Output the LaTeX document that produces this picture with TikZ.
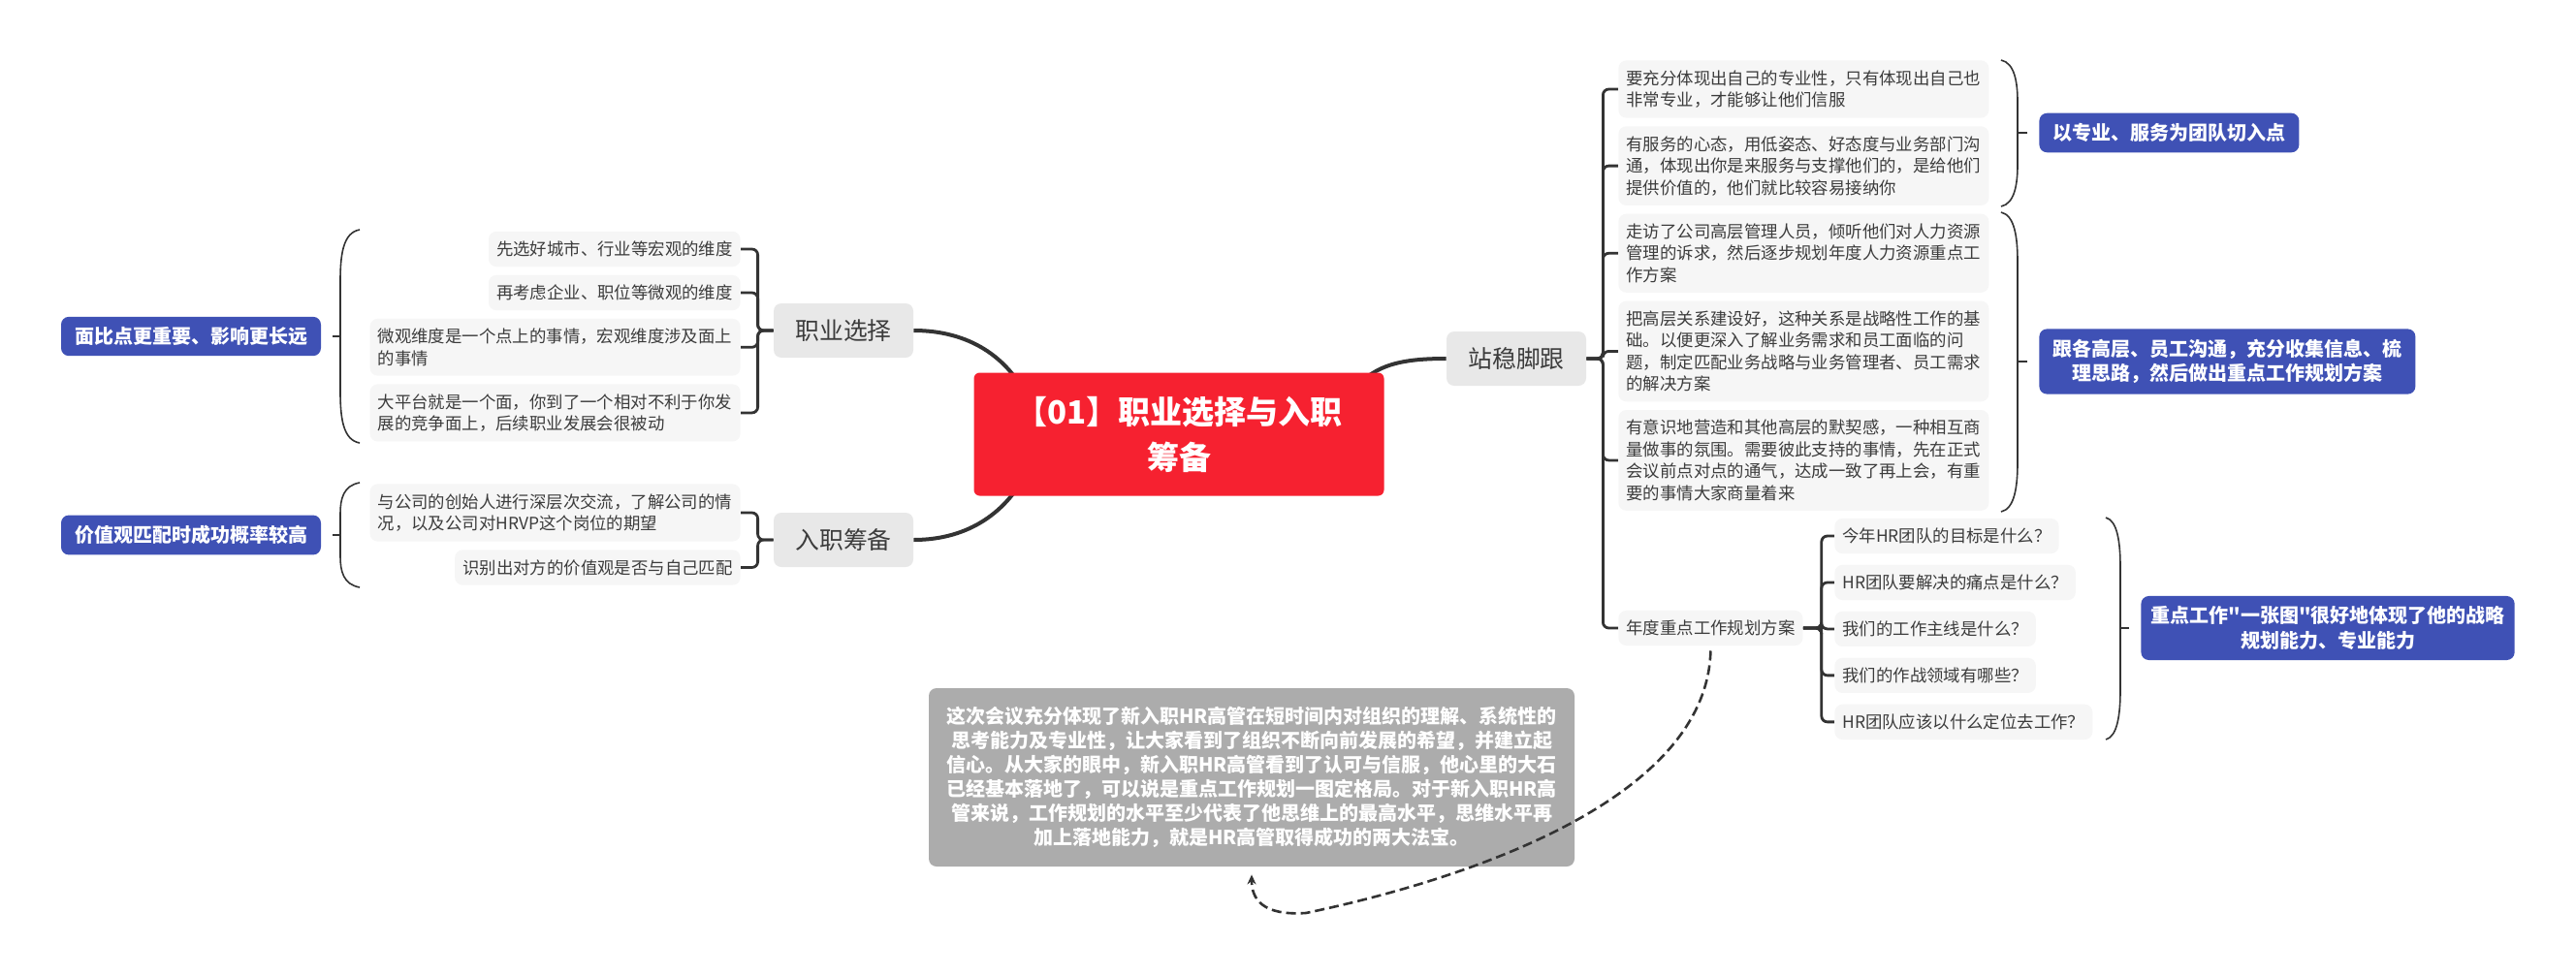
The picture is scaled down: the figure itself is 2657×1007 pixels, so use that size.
\documentclass[tikz,border=0pt]{standalone}
\usepackage{fontspec}
\newfontfamily\cjkfont{Noto Sans CJK SC}
\usetikzlibrary{positioning,calc,arrows.meta,backgrounds}

\definecolor{rootred}{RGB}{246,33,48}
\definecolor{sumblue}{RGB}{63,81,181}
\definecolor{mainfill}{RGB}{232,232,232}
\definecolor{leaffill}{RGB}{246,246,246}
\definecolor{notefill}{RGB}{172,172,172}
\definecolor{inkgray}{RGB}{51,51,51}
\definecolor{textgray}{RGB}{60,60,60}

\tikzset{
  rootbox/.style={fill=rootred, text=white, rounded corners=3pt, align=center,
    minimum width=211.5pt, minimum height=63.5pt,
    font=\cjkfont\bfseries\fontsize{16.5}{23.5}\selectfont},
  mainbox/.style={fill=mainfill, text=textgray, rounded corners=4pt,
    minimum width=72pt, minimum height=28pt,
    font=\cjkfont\fontsize{12.4}{15}\selectfont},
  leafbox/.style={fill=leaffill, text=textgray, rounded corners=4pt, align=left,
    inner xsep=4pt, inner ysep=5pt,
    font=\cjkfont\fontsize{8.7}{11.25}\selectfont},
  leafwide/.style={leafbox, text width=183pt},
  sumbox/.style={fill=sumblue, text=white, rounded corners=4pt, align=center,
    inner xsep=7pt, inner ysep=5.3pt,
    font=\cjkfont\bfseries\fontsize{10}{12.8}\selectfont},
  notebox/.style={fill=notefill, text=white, rounded corners=4pt, align=center,
    minimum width=333pt, minimum height=92pt,
    font=\cjkfont\bfseries\fontsize{10}{12.5}\selectfont},
  branch/.style={draw=inkgray, line width=2pt},
  twig/.style={draw=inkgray, line width=1.4pt, rounded corners=3pt},
  wire/.style={draw=inkgray, line width=0.8pt},
  dashwire/.style={draw=inkgray, line width=1.3pt, dash pattern=on 5pt off 2.5pt,
    -{Stealth[length=5pt,width=4.5pt]}},
}

\begin{document}
\begin{tikzpicture}[x=0.5pt, y=-0.5pt]
\useasboundingbox (0,0) rectangle (2657,1007);

% Root and main branches
\node[rootbox] (root) at (1216,448) {【01】职业选择与入职\\筹备};
\node[mainbox] (career) at (870,341) {职业选择};
\node[mainbox] (onboard) at (870,557) {入职筹备};
\node[mainbox] (settle) at (1564,370) {站稳脚跟};

% Left leaves
\node[leafbox, anchor=east] (city) at (764,257) {先选好城市、行业等宏观的维度};
\node[leafbox, below left=4pt and 0pt of city.south east] (firm) {再考虑企业、职位等微观的维度};
\node[leafwide, below left=4pt and 0pt of firm.south east] (dot) {微观维度是一个点上的事情，宏观维度涉及面上\\的事情};
\node[leafwide, below left=4pt and 0pt of dot.south east] (face) {大平台就是一个面，你到了一个相对不利于你发\\展的竞争面上，后续职业发展会很被动};
\node[leafwide, anchor=east] (talk) at (764,529) {与公司的创始人进行深层次交流，了解公司的情\\况，以及公司对HRVP这个岗位的期望};
\node[leafbox, below left=4pt and 0pt of talk.south east] (value) {识别出对方的价值观是否与自己匹配};

% Right leaves
\node[leafwide, anchor=west] (pro) at (1669,92) {要充分体现出自己的专业性，只有体现出自己也\\非常专业，才能够让他们信服};
\node[leafwide, below right=4pt and 0pt of pro.south west] (serve) {有服务的心态，用低姿态、好态度与业务部门沟\\通，体现出你是来服务与支撑他们的，是给他们\\提供价值的，他们就比较容易接纳你};
\node[leafwide, below right=4pt and 0pt of serve.south west] (visit) {走访了公司高层管理人员，倾听他们对人力资源\\管理的诉求，然后逐步规划年度人力资源重点工\\作方案};
\node[leafwide, below right=4pt and 0pt of visit.south west] (tie) {把高层关系建设好，这种关系是战略性工作的基\\础。以便更深入了解业务需求和员工面临的问\\题，制定匹配业务战略与业务管理者、员工需求\\的解决方案};
\node[leafwide, below right=4pt and 0pt of tie.south west] (tacit) {有意识地营造和其他高层的默契感，一种相互商\\量做事的氛围。需要彼此支持的事情，先在正式\\会议前点对点的通气，达成一致了再上会，有重\\要的事情大家商量着来};
\node[leafbox, anchor=west] (plan) at (1669,648) {年度重点工作规划方案};

% Questions of the plan
\node[leafbox, anchor=west] (qgoal) at (1892,553) {今年HR团队的目标是什么？};
\node[leafbox, below right=5.5pt and 0pt of qgoal.south west] (qpain) {HR团队要解决的痛点是什么？};
\node[leafbox, below right=5.5pt and 0pt of qpain.south west] (qline) {我们的工作主线是什么？};
\node[leafbox, below right=5.5pt and 0pt of qline.south west] (qfield) {我们的作战领域有哪些？};
\node[leafbox, below right=5.5pt and 0pt of qfield.south west] (qrole) {HR团队应该以什么定位去工作？};

% Summaries
\node[sumbox] (sumcareer) at (197,347) {面比点更重要、影响更长远};
\node[sumbox] (sumonboard) at (197,552) {价值观匹配时成功概率较高};
\node[sumbox, anchor=west] (sumpro) at (2103,137) {以专业、服务为团队切入点};
\node[sumbox, anchor=west] (sumtalk) at (2103,373) {跟各高层、员工沟通，充分收集信息、梳\\理思路，然后做出重点工作规划方案};
\node[sumbox, anchor=west, inner xsep=5pt] (sumchart) at (2208,648) {重点工作"一张图"很好地体现了他的战略\\规划能力、专业能力};

% Callout
\node[notebox] (note) at (1291,802) {这次会议充分体现了新入职HR高管在短时间内对组织的理解、系统性的\\思考能力及专业性，让大家看到了组织不断向前发展的希望，并建立起\\信心。从大家的眼中，新入职HR高管看到了认可与信服，他心里的大石\\已经基本落地了，可以说是重点工作规划一图定格局。对于新入职HR高\\管来说，工作规划的水平至少代表了他思维上的最高水平，思维水平再\\加上落地能力，就是HR高管取得成功的两大法宝。};
\coordinate (loop) at (1347,942);

\begin{scope}[on background layer]
\fill[white] (0,0) rectangle (2657,1007);
% Main curves
\draw[branch] (career.east) .. controls +(58,0) and +(-20,-40) .. ($(root.north west)+(55,25)$);
\draw[branch] (onboard.east) .. controls +(58,0) and +(-20,40) .. ($(root.south west)+(55,-25)$);
\draw[branch] (settle.west) .. controls +(-45,0) and +(20,-25) .. ($(root.north east)+(-30,17)$);
% Twigs
\foreach \leaf in {city,firm,dot,face}
  \draw[twig] (career.west) -- ++(-16,0) |- (\leaf.east);
\foreach \leaf in {talk,value}
  \draw[twig] (onboard.west) -- ++(-16,0) |- (\leaf.east);
\foreach \leaf in {pro,serve,visit,tie,tacit,plan}
  \draw[twig] (settle.east) -- ++(17,0) |- (\leaf.west);
\foreach \leaf in {qgoal,qpain,qline,qfield,qrole}
  \draw[twig] (plan.east) -- ++(19,0) |- (\leaf.west);
\end{scope}

% Summary braces
\draw[wire] (371,237) .. controls (354,240) and (351,262) .. (351,290) -- (351,404) .. controls (351,432) and (354,454) .. (371,457);
\draw[wire] ($(sumcareer.east)+(12,0)$) -- ++(7,0);
\draw[wire] (371,498) .. controls (354,501) and (351,515) .. (351,530) -- (351,574) .. controls (351,589) and (354,603) .. (371,606);
\draw[wire] ($(sumonboard.east)+(12,0)$) -- ++(7,0);
\draw[wire] (2064,62) .. controls (2078,65) and (2081,85) .. (2081,105) -- (2081,170) .. controls (2081,190) and (2078,210) .. (2064,213);
\draw[wire] ($(sumpro.west)+(-12,0)$) -- ++(-10,0);
\draw[wire] (2064,219) .. controls (2078,222) and (2081,245) .. (2081,270) -- (2081,477) .. controls (2081,502) and (2078,525) .. (2064,528);
\draw[wire] ($(sumtalk.west)+(-12,0)$) -- ++(-10,0);
\draw[wire] (2172,534) .. controls (2184,537) and (2187,560) .. (2187,585) -- (2187,712) .. controls (2187,737) and (2184,760) .. (2172,763);
\draw[wire] ($(sumchart.west)+(-12,0)$) -- ++(-9,0);

% Dashed link to the callout
\draw[dashwire] ($(plan.south)+(0,5)$) .. controls +(-4,158) and +(153,-32) .. (loop)
  .. controls +(-45,3) and +(0,25) .. ($(note.south)+(0,8)$);
\end{tikzpicture}
\end{document}
